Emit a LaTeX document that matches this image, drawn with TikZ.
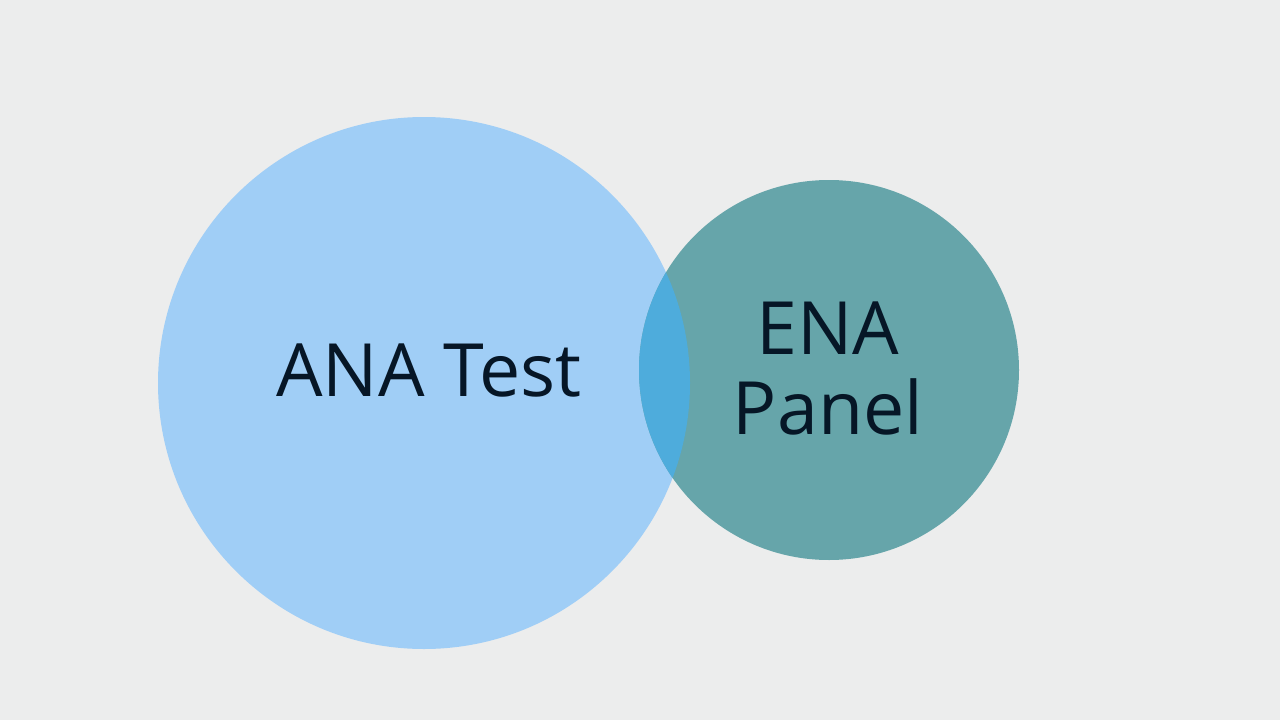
\documentclass[tikz,border=0pt]{standalone}
\usepackage{fontspec}
\setmainfont{Open Sans}
\usepackage{tikz}
\usetikzlibrary{positioning}
\definecolor{bgcol}{RGB}{236,237,237}
\definecolor{anacol}{RGB}{160,206,246}
\definecolor{enacol}{RGB}{102,165,170}
\definecolor{lapcol}{RGB}{78,172,220}
\definecolor{txtcol}{RGB}{6,22,38}
\tikzstyle{lbl} = [text=txtcol, font=\fontsize{73.5}{80}\selectfont, align=center]
\begin{document}
\begin{tikzpicture}[x=1pt,y=-1pt]
	\useasboundingbox (0, 0) rectangle (1280, 720);
	\fill [bgcol] (0, 0) rectangle (1280, 720);
	\fill [anacol] (424, 383) circle [radius=266];
	\fill [enacol] (829, 370) circle [radius=190];
	\begin{scope}
		\clip (424, 383) circle [radius=266];
		\fill [lapcol] (829, 370) circle [radius=190];
	\end{scope}
	\node [lbl] (ana) at (429, 371) {ANA Test};
	\node [lbl] (ena) at (828, 368.5) {ENA\\Panel};
\end{tikzpicture}
\end{document}
